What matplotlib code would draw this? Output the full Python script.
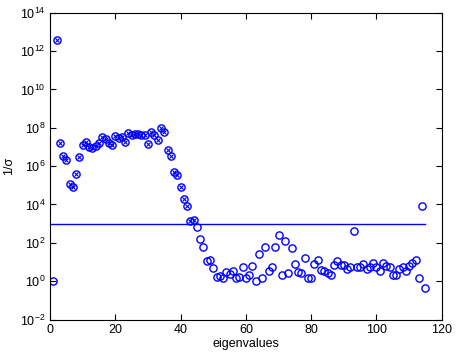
import matplotlib
matplotlib.use("Agg")
import matplotlib.pyplot as plt
import numpy as np

plt.rcParams['font.family'] = ['Liberation Sans', 'DejaVu Sans']
plt.rcParams['mathtext.fontset'] = 'custom'
plt.rcParams['mathtext.rm'] = 'Liberation Sans'

# log10 of 1/sigma for eigenvalue index 1..115
log_inv_sigma = [
    0.0, 12.56, 7.23, 6.54, 6.33, 5.08, 4.9, 5.6, 6.5, 7.1,
    7.28, 6.99, 6.95, 7.06, 7.23, 7.54, 7.4, 7.23, 7.09, 7.58,
    7.47, 7.51, 7.28, 7.72, 7.63, 7.66, 7.66, 7.65, 7.62, 7.16,
    7.77, 7.65, 7.34, 8.0, 7.78, 6.83, 6.54, 5.71, 5.55, 4.9,
    4.28, 3.93, 3.14, 3.2, 2.82, 2.21, 1.78, 1.03, 1.12, 0.67,
    0.23, 0.27, 0.17, 0.5, 0.36, 0.53, 0.18, 0.22, 0.74, 0.15,
    0.31, 0.79, 0.0, 1.41, 0.17, 1.78, 0.51, 0.74, 1.76, 2.41,
    0.3, 2.09, 0.41, 1.74, 0.88, 0.49, 0.45, 1.21, 0.18, 0.17,
    0.88, 1.12, 0.56, 0.51, 0.42, 0.3, 0.84, 1.03, 0.84, 0.82,
    0.64, 0.72, 2.6, 0.72, 0.72, 0.91, 0.64, 0.76, 0.93, 0.74,
    0.55, 0.96, 0.81, 0.72, 0.3, 0.3, 0.64, 0.76, 0.55, 0.81,
    0.95, 1.1, 0.15, 3.93, -0.35,
]
# indices also marked with an x
crossed_first, crossed_last = 2, 44
threshold = 1e3
threshold_end = 115

idx = np.arange(1, len(log_inv_sigma) + 1)
vals = 10.0 ** np.array(log_inv_sigma)

fig = plt.figure(figsize=(4.74, 3.56), dpi=100)
ax = fig.add_axes([0.1055, 0.1025, 0.8265, 0.8615])

blue = (0, 0, 1)
ax.plot(idx, vals, 'o', mfc='none', mec=blue, ms=5.2, mew=1.0)
sel = (idx >= crossed_first) & (idx <= crossed_last)
ax.plot(idx[sel], vals[sel], 'x', color=blue, ms=3.0, mew=0.8)
ax.plot([0, threshold_end], [threshold, threshold], '-', color=blue, lw=1.0)

ax.set_yscale('log')
ax.set_xlim(0, 120)
ax.set_ylim(1e-2, 1e14)
ax.set_xticks(np.arange(0, 121, 20))
ax.set_yticks([10.0 ** k for k in range(-2, 15, 2)])
ax.set_yticklabels([r'$10^{%d}$' % k for k in range(-2, 15, 2)])
ax.yaxis.set_minor_locator(matplotlib.ticker.NullLocator())
ax.tick_params(direction='in', top=True, right=True, labelsize=9, length=4, width=0.8)
for s in ax.spines.values():
    s.set_linewidth(0.8)

ax.set_xlabel('eigenvalues', fontsize=9, labelpad=1)
ax.set_ylabel('1/σ', fontsize=9, labelpad=3)

fig.savefig('out.png', dpi=100)
